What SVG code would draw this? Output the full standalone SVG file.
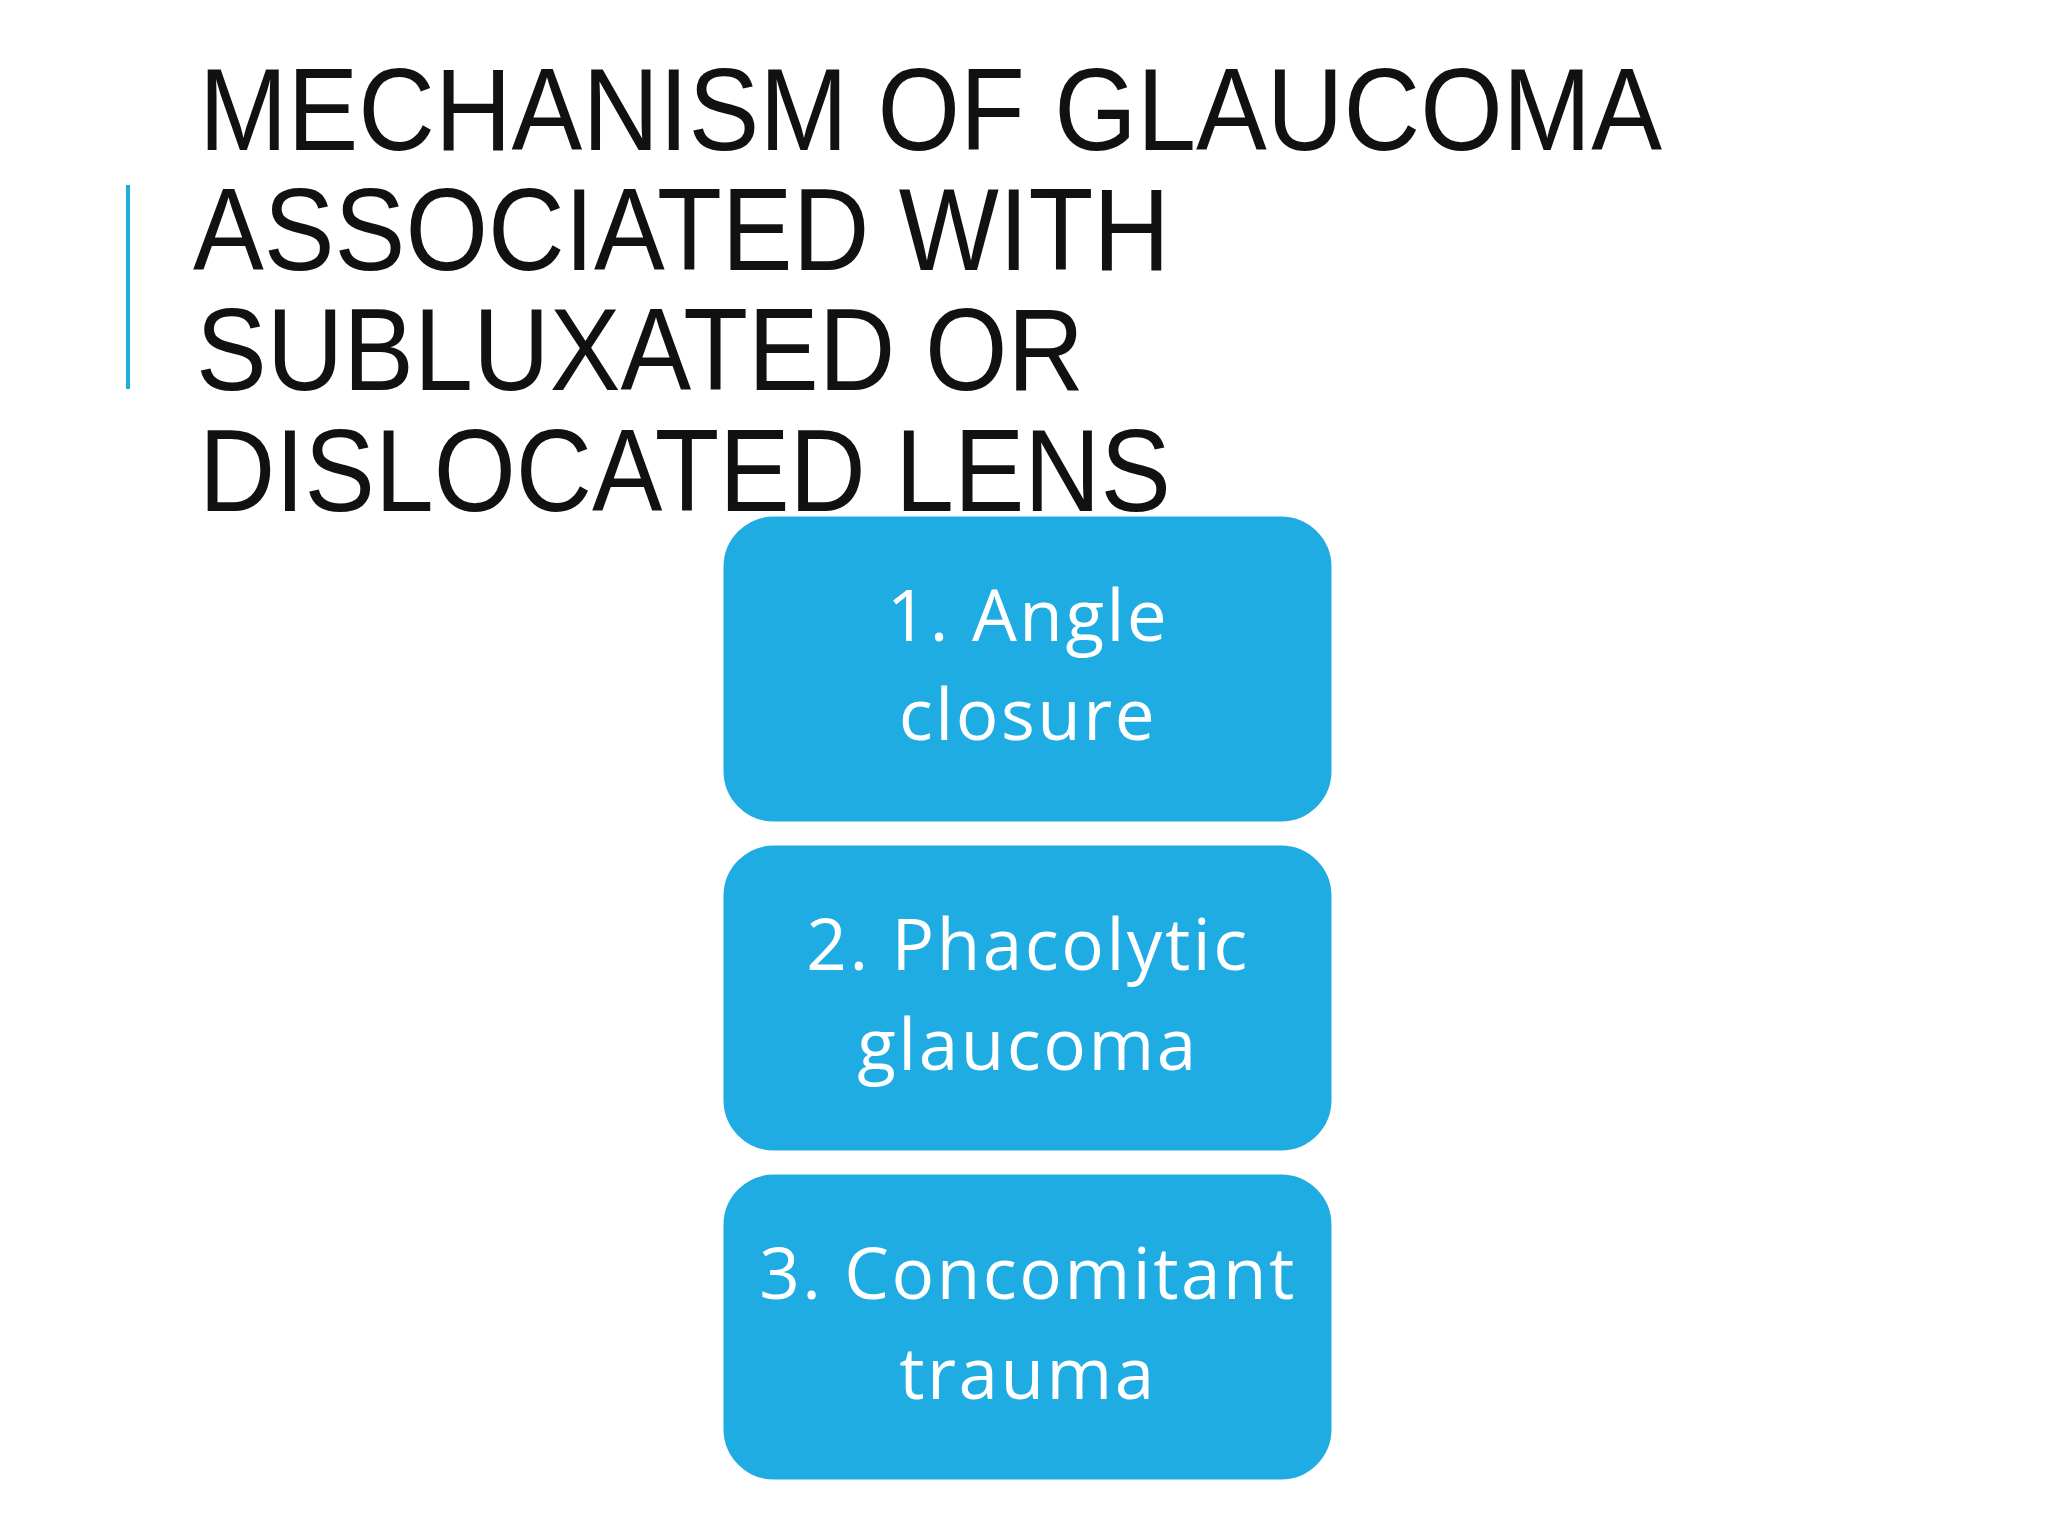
<svg xmlns="http://www.w3.org/2000/svg" width="2048" height="1536" viewBox="0 0 2048 1536">
<style>
.t{font-family:"Liberation Sans Narrow","Liberation Sans",Arial,sans-serif;font-size:116px;fill:#111}
.b{fill:#1FACE3;stroke:#fff;stroke-width:3}
.l{font-family:"Open Sans","Noto Sans",sans-serif;font-size:71px;letter-spacing:2.5px;fill:#fff;text-anchor:middle}
</style>
<rect width="2048" height="1536" fill="#fff"/>
<rect x="126" y="185" width="4" height="204" fill="#1FACE3"/>
<g id="title">
<text class="t" x="199" y="150" textLength="1463" lengthAdjust="spacingAndGlyphs">MECHANISM OF GLAUCOMA</text>
<text class="t" x="193" y="270" textLength="977" lengthAdjust="spacingAndGlyphs">ASSOCIATED WITH</text>
<text class="t" x="196" y="390" textLength="888" lengthAdjust="spacingAndGlyphs">SUBLUXATED OR</text>
<text class="t" x="199" y="511" textLength="972" lengthAdjust="spacingAndGlyphs">DISLOCATED LENS</text>
</g>
<g id="connectors"></g>
<g id="n1"><rect class="b" x="722" y="515" width="611" height="308" rx="52"/>
<text class="l" x="1028" y="641">1. Angle</text><text class="l" x="1028" y="740">closure</text></g>
<g id="n2"><rect class="b" x="722" y="844" width="611" height="308" rx="52"/>
<text class="l" x="1028" y="970">2. Phacolytic</text><text class="l" x="1028" y="1070">glaucoma</text></g>
<g id="n3"><rect class="b" x="722" y="1173" width="611" height="308" rx="52"/>
<text class="l" x="1028" y="1299">3. Concomitant</text><text class="l" x="1028" y="1399">trauma</text></g>
</svg>
